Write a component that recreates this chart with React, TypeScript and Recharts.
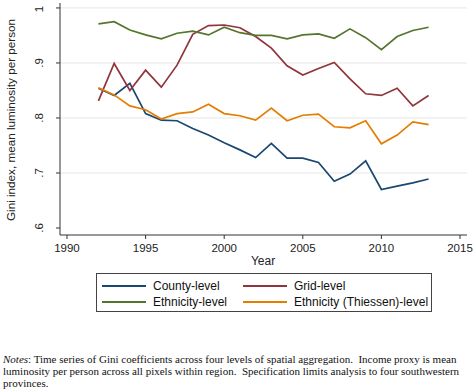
import { LineChart, Line, XAxis, YAxis, ReferenceLine, Legend } from 'recharts';

const years = [1992, 1993, 1994, 1995, 1996, 1997, 1998, 1999, 2000, 2001, 2002, 2003, 2004, 2005, 2006, 2007, 2008, 2009, 2010, 2011, 2012, 2013];
const countyLevel = [0.854, 0.841, 0.863, 0.808, 0.796, 0.795, 0.781, 0.769, 0.755, 0.742, 0.728, 0.754, 0.727, 0.727, 0.719, 0.685, 0.698, 0.722, 0.670, 0.676, 0.682, 0.689];
const gridLevel = [0.831, 0.899, 0.850, 0.887, 0.856, 0.896, 0.952, 0.968, 0.969, 0.964, 0.948, 0.927, 0.895, 0.878, 0.890, 0.901, 0.871, 0.844, 0.841, 0.854, 0.822, 0.841];
const ethnicityLevel = [0.971, 0.975, 0.960, 0.951, 0.944, 0.954, 0.958, 0.951, 0.965, 0.955, 0.950, 0.950, 0.944, 0.951, 0.953, 0.945, 0.962, 0.946, 0.924, 0.948, 0.959, 0.965];
const thiessenLevel = [0.855, 0.842, 0.822, 0.815, 0.798, 0.808, 0.811, 0.825, 0.808, 0.804, 0.796, 0.818, 0.795, 0.805, 0.807, 0.784, 0.782, 0.795, 0.753, 0.769, 0.793, 0.788];

const xTicks = [1990, 1995, 2000, 2005, 2010, 2015];
const yTicks = [0.6, 0.7, 0.8, 0.9, 1];
const gridValues = [0.7, 0.8, 0.9, 1];

const series = [
  { key: 'county', name: 'County-level', color: '#1a476f' },
  { key: 'grid', name: 'Grid-level', color: '#90353b' },
  { key: 'ethnicity', name: 'Ethnicity-level', color: '#55752f' },
  { key: 'thiessen', name: 'Ethnicity (Thiessen)-level', color: '#e37e00' },
];

const data = years.map((year, i) => ({
  year,
  county: countyLevel[i],
  grid: gridLevel[i],
  ethnicity: ethnicityLevel[i],
  thiessen: thiessenLevel[i],
}));

const FONT = '"Liberation Sans", Arial, sans-serif';

const fmtY = (v: number) => (v >= 1 ? '1' : v.toFixed(1).replace(/^0/, ''));

const YTick = ({ x, y, payload }: any) => (
  <text
    x={x - 11}
    y={y}
    transform={`rotate(-90, ${x - 11}, ${y})`}
    textAnchor="middle"
    fontSize={11.5}
    fontFamily={FONT}
    fill="#222"
  >
    {fmtY(payload.value)}
  </text>
);

const LegendBox = () => (
  <div
    style={{
      width: 334,
      height: 37,
      border: '1px solid #444',
      fontFamily: FONT,
      fontSize: 12,
      color: '#111',
      position: 'relative',
      background: '#fff',
    }}
  >
    {series.map((s, i) => {
      const col = i % 2;
      const row = Math.floor(i / 2);
      return (
        <div
          key={s.key}
          style={{
            position: 'absolute',
            left: col === 0 ? 5 : 146,
            top: row === 0 ? 4 : 20,
            display: 'flex',
            alignItems: 'center',
            height: 15,
            whiteSpace: 'nowrap',
          }}
        >
          <div style={{ width: 44, height: 2, background: s.color, marginRight: 7 }} />
          <span>{s.name}</span>
        </div>
      );
    })}
  </div>
);

export default function App() {
  return (
    <div style={{ position: 'absolute', left: 0, top: 0, width: 474, height: 391, background: '#fff' }}>
      <LineChart width={474} height={320} data={data} margin={{ top: 3, right: 7, bottom: 55, left: 0 }}>
        {gridValues.map((v) => (
          <ReferenceLine key={v} y={v} stroke="#e6e6e6" strokeWidth={1} />
        ))}
        <XAxis
          dataKey="year"
          type="number"
          domain={[1989.555, 2015.445]}
          ticks={xTicks}
          allowDataOverflow
          height={30}
          tickSize={4}
          tickMargin={5}
          stroke="#333"
          tick={{ fontSize: 11.5, fontFamily: FONT, fill: '#222' }}
          label={{
            content: () => (
              <text x={263} y={265} textAnchor="middle" fontSize={12} fontFamily={FONT} fill="#222">
                Year
              </text>
            ),
          }}
        />
        <YAxis
          type="number"
          domain={[0.5873, 1.009]}
          ticks={yTicks}
          allowDataOverflow
          width={60}
          tickSize={4}
          stroke="#333"
          tick={<YTick />}
          label={{
            content: () => (
              <text
                x={15}
                y={120}
                transform="rotate(-90, 15, 120)"
                textAnchor="middle"
                fontSize={11.7}
                fontFamily={FONT}
                fill="#222"
              >
                Gini index, mean luminosity per person
              </text>
            ),
          }}
        />
        {series.map((s) => (
          <Line
            key={s.key}
            type="linear"
            dataKey={s.key}
            name={s.name}
            stroke={s.color}
            strokeWidth={1.7}
            dot={false}
            isAnimationActive={false}
          />
        ))}
        <Legend
          layout="vertical"
          align="center"
          verticalAlign="middle"
          content={<LegendBox />}
          wrapperStyle={{ position: 'absolute', left: 96, top: 273, width: 336 }}
        />
      </LineChart>
      <div
        style={{
          position: 'absolute',
          left: 3,
          top: 354,
          width: 471,
          fontFamily: '"Liberation Serif", "Times New Roman", serif',
          fontSize: 11,
          lineHeight: '11.8px',
          color: '#111',
          whiteSpace: 'pre',
        }}
      >
        <i>Notes</i>
        {': Time series of Gini coefficients across four levels of spatial aggregation.  Income proxy is mean\nluminosity per person across all pixels within region.  Specification limits analysis to four southwestern\nprovinces.'}
      </div>
    </div>
  );
}
